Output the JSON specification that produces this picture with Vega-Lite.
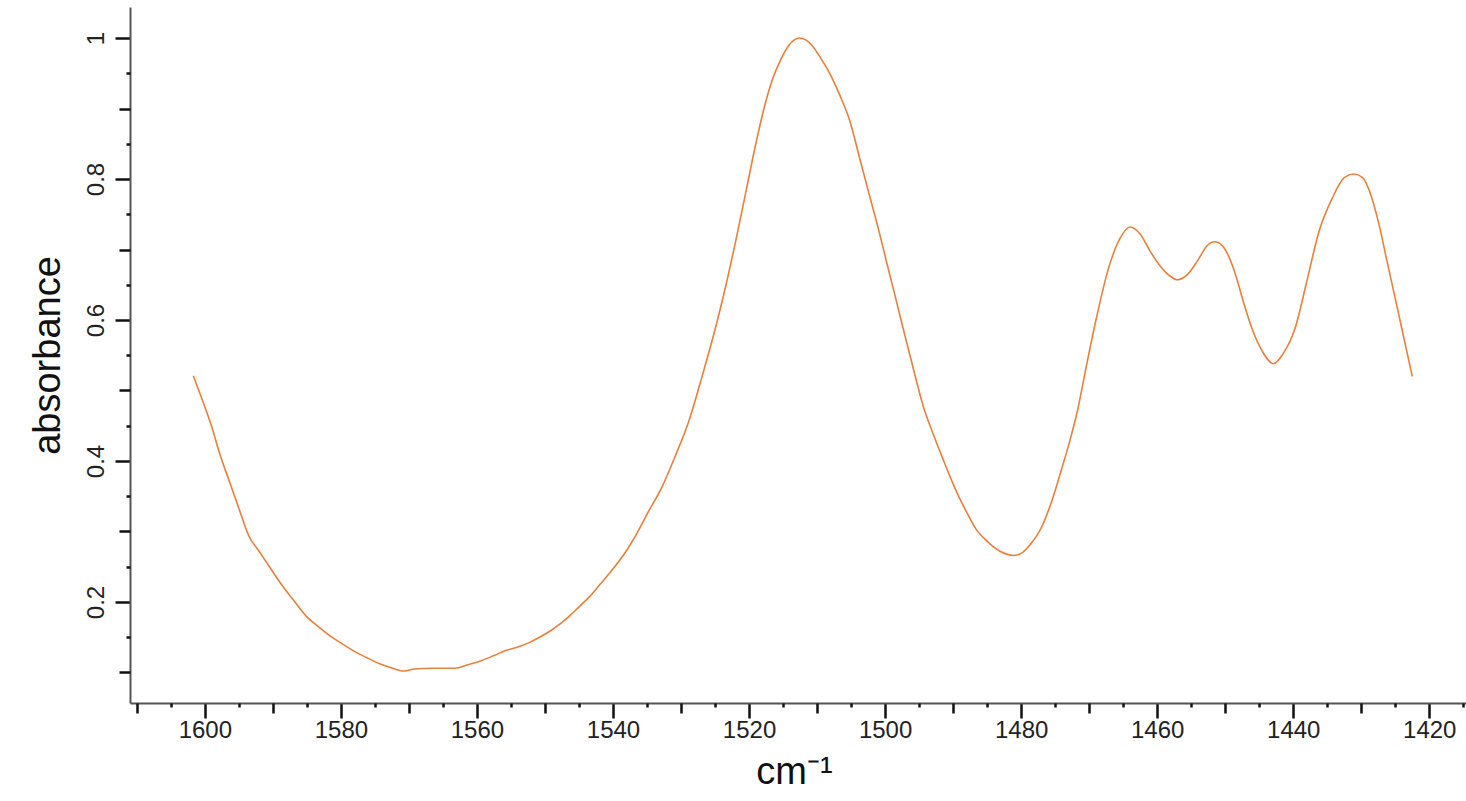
{
  "$schema": "https://vega.github.io/schema/vega-lite/v6.json",
  "autosize": "none",
  "width": 1336,
  "height": 696,
  "padding": {"left": 130, "top": 7, "right": 0, "bottom": 98},
  "background": "white",
  "data": {
    "values": [
      {"wavenumber": 1601.7, "absorbance": 0.521},
      {"wavenumber": 1600.5, "absorbance": 0.49},
      {"wavenumber": 1599.0, "absorbance": 0.449},
      {"wavenumber": 1597.8, "absorbance": 0.41},
      {"wavenumber": 1596.5, "absorbance": 0.374},
      {"wavenumber": 1595.0, "absorbance": 0.333},
      {"wavenumber": 1593.5, "absorbance": 0.293},
      {"wavenumber": 1592.1, "absorbance": 0.273},
      {"wavenumber": 1590.5, "absorbance": 0.25},
      {"wavenumber": 1588.6, "absorbance": 0.223},
      {"wavenumber": 1587.0, "absorbance": 0.203},
      {"wavenumber": 1585.1, "absorbance": 0.18},
      {"wavenumber": 1583.3, "absorbance": 0.165},
      {"wavenumber": 1581.6, "absorbance": 0.152},
      {"wavenumber": 1580.0, "absorbance": 0.142},
      {"wavenumber": 1578.2, "absorbance": 0.131},
      {"wavenumber": 1576.2, "absorbance": 0.121},
      {"wavenumber": 1574.2, "absorbance": 0.112},
      {"wavenumber": 1572.4, "absorbance": 0.106},
      {"wavenumber": 1570.7, "absorbance": 0.102},
      {"wavenumber": 1569.2, "absorbance": 0.105},
      {"wavenumber": 1566.5, "absorbance": 0.106},
      {"wavenumber": 1563.3, "absorbance": 0.106},
      {"wavenumber": 1561.3, "absorbance": 0.111},
      {"wavenumber": 1559.3, "absorbance": 0.117},
      {"wavenumber": 1557.5, "absorbance": 0.124},
      {"wavenumber": 1555.8, "absorbance": 0.131},
      {"wavenumber": 1554.0, "absorbance": 0.136},
      {"wavenumber": 1552.4, "absorbance": 0.142},
      {"wavenumber": 1550.6, "absorbance": 0.151},
      {"wavenumber": 1548.9, "absorbance": 0.161},
      {"wavenumber": 1546.4, "absorbance": 0.18},
      {"wavenumber": 1545.0, "absorbance": 0.193},
      {"wavenumber": 1543.4, "absorbance": 0.208},
      {"wavenumber": 1541.9, "absorbance": 0.225},
      {"wavenumber": 1540.4, "absorbance": 0.242},
      {"wavenumber": 1538.0, "absorbance": 0.273},
      {"wavenumber": 1536.5, "absorbance": 0.297},
      {"wavenumber": 1534.8, "absorbance": 0.328},
      {"wavenumber": 1532.8, "absorbance": 0.363},
      {"wavenumber": 1530.8, "absorbance": 0.408},
      {"wavenumber": 1528.9, "absorbance": 0.455},
      {"wavenumber": 1526.9, "absorbance": 0.52},
      {"wavenumber": 1524.9, "absorbance": 0.59},
      {"wavenumber": 1523.5, "absorbance": 0.645},
      {"wavenumber": 1522.0, "absorbance": 0.71},
      {"wavenumber": 1520.5, "absorbance": 0.78},
      {"wavenumber": 1519.0, "absorbance": 0.85},
      {"wavenumber": 1517.8, "absorbance": 0.9},
      {"wavenumber": 1516.6, "absorbance": 0.94},
      {"wavenumber": 1515.3, "absorbance": 0.97},
      {"wavenumber": 1514.1, "absorbance": 0.99},
      {"wavenumber": 1512.6, "absorbance": 1.0},
      {"wavenumber": 1511.6, "absorbance": 0.997},
      {"wavenumber": 1510.7, "absorbance": 0.989},
      {"wavenumber": 1509.5, "absorbance": 0.972},
      {"wavenumber": 1508.2, "absorbance": 0.951},
      {"wavenumber": 1506.7, "absorbance": 0.92},
      {"wavenumber": 1505.2, "absorbance": 0.883},
      {"wavenumber": 1503.8, "absorbance": 0.832},
      {"wavenumber": 1502.3, "absorbance": 0.777},
      {"wavenumber": 1501.0, "absorbance": 0.73},
      {"wavenumber": 1499.8, "absorbance": 0.683},
      {"wavenumber": 1498.6, "absorbance": 0.637},
      {"wavenumber": 1497.4, "absorbance": 0.59},
      {"wavenumber": 1495.9, "absorbance": 0.533},
      {"wavenumber": 1494.4, "absorbance": 0.478},
      {"wavenumber": 1493.0, "absorbance": 0.44},
      {"wavenumber": 1491.5, "absorbance": 0.403},
      {"wavenumber": 1489.8, "absorbance": 0.363},
      {"wavenumber": 1488.1, "absorbance": 0.329},
      {"wavenumber": 1486.6, "absorbance": 0.303},
      {"wavenumber": 1485.1, "absorbance": 0.287},
      {"wavenumber": 1483.1, "absorbance": 0.272},
      {"wavenumber": 1481.1, "absorbance": 0.266},
      {"wavenumber": 1479.8, "absorbance": 0.27},
      {"wavenumber": 1478.7, "absorbance": 0.281},
      {"wavenumber": 1477.0, "absorbance": 0.306},
      {"wavenumber": 1475.5, "absorbance": 0.343},
      {"wavenumber": 1474.0, "absorbance": 0.39},
      {"wavenumber": 1472.8, "absorbance": 0.43},
      {"wavenumber": 1471.7, "absorbance": 0.472},
      {"wavenumber": 1470.3, "absorbance": 0.54},
      {"wavenumber": 1469.0, "absorbance": 0.6},
      {"wavenumber": 1467.1, "absorbance": 0.675},
      {"wavenumber": 1465.5, "absorbance": 0.715},
      {"wavenumber": 1464.0, "absorbance": 0.732},
      {"wavenumber": 1462.5, "absorbance": 0.722},
      {"wavenumber": 1461.0, "absorbance": 0.697},
      {"wavenumber": 1459.5, "absorbance": 0.676},
      {"wavenumber": 1458.2, "absorbance": 0.663},
      {"wavenumber": 1457.0, "absorbance": 0.657},
      {"wavenumber": 1455.5, "absorbance": 0.665},
      {"wavenumber": 1454.0, "absorbance": 0.685},
      {"wavenumber": 1452.7, "absorbance": 0.705},
      {"wavenumber": 1451.5, "absorbance": 0.711},
      {"wavenumber": 1450.0, "absorbance": 0.7},
      {"wavenumber": 1448.5, "absorbance": 0.665},
      {"wavenumber": 1447.3, "absorbance": 0.625},
      {"wavenumber": 1446.1, "absorbance": 0.589},
      {"wavenumber": 1444.5, "absorbance": 0.555},
      {"wavenumber": 1442.9, "absorbance": 0.538},
      {"wavenumber": 1441.5, "absorbance": 0.552},
      {"wavenumber": 1439.7, "absorbance": 0.589},
      {"wavenumber": 1438.0, "absorbance": 0.655},
      {"wavenumber": 1436.2, "absorbance": 0.726},
      {"wavenumber": 1434.3, "absorbance": 0.772},
      {"wavenumber": 1432.5, "absorbance": 0.802},
      {"wavenumber": 1431.1, "absorbance": 0.807},
      {"wavenumber": 1429.8, "absorbance": 0.802},
      {"wavenumber": 1428.5, "absorbance": 0.775},
      {"wavenumber": 1427.4, "absorbance": 0.736},
      {"wavenumber": 1426.2, "absorbance": 0.683},
      {"wavenumber": 1424.9, "absorbance": 0.626},
      {"wavenumber": 1423.7, "absorbance": 0.573},
      {"wavenumber": 1422.5, "absorbance": 0.52}
    ]
  },
  "layer": [
    {
      "mark": {"type": "line", "color": "#e8803c", "strokeWidth": 1.6, "interpolate": "monotone"},
      "encoding": {
        "x": {
          "field": "wavenumber",
          "type": "quantitative",
          "scale": {"domain": [1414.6, 1611], "reverse": true, "nice": false, "zero": false},
          "axis": {
            "orient": "bottom",
            "values": [1600, 1580, 1560, 1540, 1520, 1500, 1480, 1460, 1440, 1420],
            "format": "d",
            "tickSize": 15,
            "tickWidth": 2.5,
            "labelPadding": 0,
            "title": "cm⁻¹",
            "titleX": 664,
            "titleY": 80,
            "titleBaseline": "alphabetic"
          }
        },
        "y": {
          "field": "absorbance",
          "type": "quantitative",
          "scale": {"domain": [0.0567, 1.044], "nice": false, "zero": false},
          "axis": {
            "orient": "left",
            "values": [0.2, 0.4, 0.6, 0.8, 1],
            "format": "~g",
            "tickSize": 15,
            "tickWidth": 2.5,
            "labelAngle": -90,
            "labelAlign": "center",
            "labelBaseline": "alphabetic",
            "labelPadding": 12,
            "title": "absorbance",
            "titleX": -82,
            "titleY": 348,
            "titleBaseline": "middle"
          }
        }
      }
    },
    {
      "mark": {"type": "point", "opacity": 0},
      "encoding": {
        "x": {
          "field": "wavenumber",
          "type": "quantitative",
          "axis": {
            "orient": "bottom",
            "values": [1610, 1590, 1570, 1550, 1530, 1510, 1490, 1470, 1450, 1430],
            "tickSize": 10,
            "tickWidth": 2.5,
            "labels": false,
            "domain": false,
            "title": null
          }
        },
        "y": {
          "field": "absorbance",
          "type": "quantitative",
          "axis": {
            "orient": "left",
            "values": [0.1, 0.3, 0.5, 0.7, 0.9],
            "tickSize": 11,
            "tickWidth": 2.5,
            "labels": false,
            "domain": false,
            "title": null
          }
        }
      }
    },
    {
      "mark": {"type": "point", "opacity": 0},
      "encoding": {
        "x": {
          "field": "wavenumber",
          "type": "quantitative",
          "axis": {
            "orient": "bottom",
            "values": [1605, 1595, 1585, 1575, 1565, 1555, 1545, 1535, 1525, 1515, 1505, 1495, 1485, 1475, 1465, 1455, 1445, 1435, 1425, 1415],
            "tickSize": 4,
            "tickWidth": 2.5,
            "labels": false,
            "domain": false,
            "title": null
          }
        },
        "y": {
          "field": "absorbance",
          "type": "quantitative",
          "axis": {
            "orient": "left",
            "values": [0.15, 0.25, 0.35, 0.45, 0.55, 0.65, 0.75, 0.85, 0.95],
            "tickSize": 4,
            "tickWidth": 2.5,
            "labels": false,
            "domain": false,
            "title": null
          }
        }
      }
    }
  ],
  "resolve": {"axis": {"x": "independent", "y": "independent"}},
  "config": {
    "view": {"stroke": null},
    "axis": {
      "grid": false,
      "domainColor": "#555555",
      "domainWidth": 2,
      "tickColor": "#111111",
      "labelFont": "Liberation Sans",
      "labelFontSize": 24,
      "labelColor": "#222222",
      "titleFont": "Liberation Sans",
      "titleFontSize": 38,
      "titleFontWeight": "normal",
      "titleColor": "#111111"
    }
  }
}
